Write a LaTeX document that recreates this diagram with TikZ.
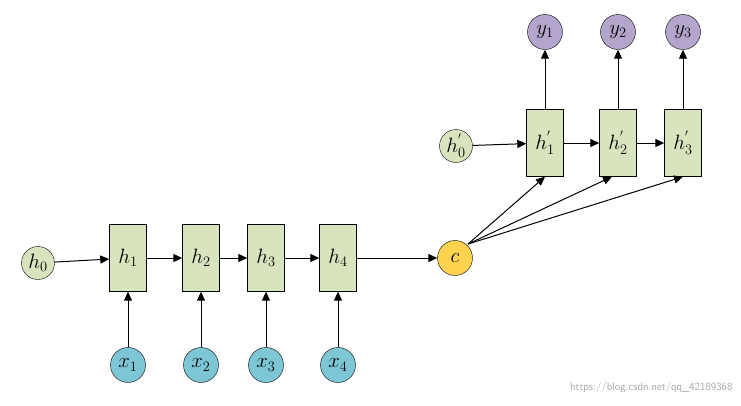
\documentclass[tikz,border=0pt]{standalone}
\usetikzlibrary{arrows.meta}
\begin{document}
\begin{tikzpicture}[x=1pt,y=-1pt,
 cell/.style={draw,fill=cellg,minimum width=37pt,minimum height=67pt,inner sep=0pt,font=\fontsize{20}{22}\selectfont},
 circ/.style={draw,circle,minimum size=35pt,inner sep=0pt,font=\fontsize{20}{22}\selectfont},
 arr/.style={-{Triangle[length=9pt,width=8pt]},line width=1pt}]
\definecolor{cellg}{RGB}{215,228,189}
\definecolor{xb}{RGB}{125,198,214}
\definecolor{yp}{RGB}{180,165,205}
\definecolor{cy}{RGB}{255,210,80}
\useasboundingbox (0,0) rectangle (741,405);
\node[circ,fill=cellg,minimum size=33pt] (h0) at (38,263) {$h_0$};
\foreach \i/\x in {1/128,2/201,3/266,4/338}{
 \node[cell] (h\i) at (\x,258) {$h_\i$};
 \node[circ,fill=xb] (x\i) at (\x,365) {$x_\i$};
 \draw[arr] (x\i) -- (h\i);
}
\node[circ,fill=cy] (c) at (455,258) {$c$};
\draw[arr] (h0) -- (h1); \draw[arr] (h1) -- (h2); \draw[arr] (h2) -- (h3); \draw[arr] (h3) -- (h4);
\draw[arr] (h4) -- (c);
\node[circ,fill=cellg,minimum size=33pt] (g0) at (456,146) {$h_0^{'}$};
\foreach \i/\x in {1/545,2/618,3/683}{
 \node[cell] (g\i) at (\x,143) {$h_\i^{'}$};
 \node[circ,fill=yp] (y\i) at (\x,32) {$y_\i$};
 \draw[arr] (g\i) -- (y\i);
}
\draw[arr] (g0) -- (g1); \draw[arr] (g1) -- (g2); \draw[arr] (g2) -- (g3);
\coordinate (cs) at (468,244);
\draw[arr] (cs) -- (g1.south); \draw[arr] (cs) -- ([xshift=-6pt]g2.south); \draw[arr] (cs) -- (g3.south);
\node[text=gray!70,font=\fontsize{11}{12}\selectfont\sffamily,anchor=east] (wm) at (736,388) {https://blog.csdn.net/qq\_42189368};
\end{tikzpicture}
\end{document}
